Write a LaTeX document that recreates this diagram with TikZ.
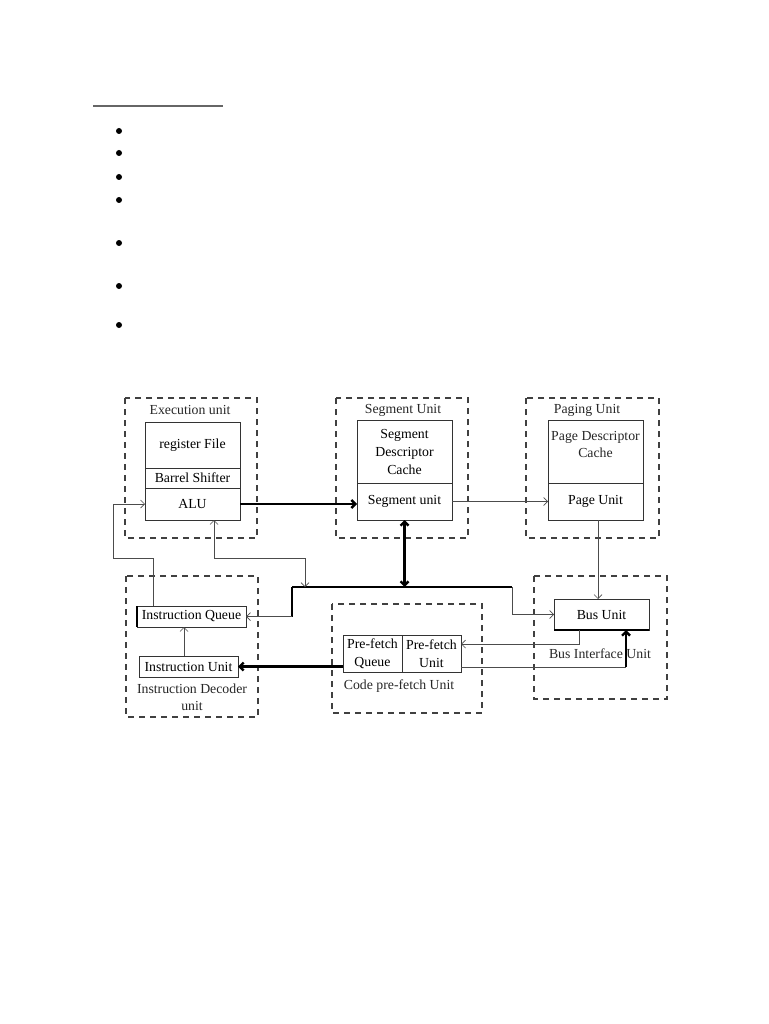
\documentclass[tikz,border=0pt]{standalone}
\usepackage{fontspec}
\setmainfont{Liberation Serif}
\usetikzlibrary{arrows.meta}

\colorlet{part edge}{black!80}
\colorlet{frame edge}{black!75}
\colorlet{wire edge}{black!70}
\tikzset{unitframe/.style={draw=frame edge, line width=1.1pt, dash pattern=on 6pt off 5pt},
    part/.style={draw=part edge, line width=0.7pt, minimum width=95pt, inner sep=0pt, outer sep=0pt,
        align=center, font=\fontsize{13.8}{18}\selectfont},
    title/.style={font=\fontsize{13.8}{17}\selectfont, align=center, text=black!85},
    wire/.style={draw=wire edge, line width=0.7pt, -{Straight Barb[length=4pt,width=8pt]}},
    bus/.style={draw=black, line width=2.4pt},
    tip/.style={-{Straight Barb[length=4pt,width=8pt]}}}
\def\frameEx{(125,398) rectangle (257,538)}
\def\frameSeg{(336,398) rectangle (468,538)}
\def\framePg{(526,398) rectangle (659,538)}
\def\frameId{(126,576) rectangle (258,717)}
\def\frameCp{(332,604) rectangle (482,713)}
\def\frameBi{(534,576) rectangle (667,699)}

\begin{document}
\begin{tikzpicture}[x=1pt,y=-1pt]
     \useasboundingbox (0,0) rectangle (768,1024);
     % heading and bullets
     \draw[black!60, line width=2pt] (93,106) -- (223,106);
     \foreach \y in {131,153,177,200,243,286,325}
         \fill (119,\y) circle (3);
     % unit frames
     \draw[unitframe] \frameEx;
     \draw[unitframe] \frameSeg;
     \draw[unitframe] \framePg;
     \draw[unitframe] \frameId;
     \draw[unitframe] \frameCp;
     \draw[unitframe] \frameBi;
     \node[title] (extitle) at (190,410) {Execution unit};
     \node[title] (segtitle) at (403,410) {Segment Unit};
     \node[title] (pgtitle) at (587,410) {Paging Unit};
     \node[title] (idtitle) at (192,697) {Instruction Decoder\\unit};
     \node[title] (cptitle) at (399,686) {Code pre-fetch Unit};
     \node[title] (bititle) at (600,654) {Bus Interface Unit};
     % parts
     \node[part, minimum height=46pt] (regfile) at (192.5,445) {register File};
     \node[part, minimum height=20pt] (shifter) at (192.5,478) {Barrel Shifter};
     \node[part, minimum height=32pt] (alu) at (192.5,504) {ALU};
     \node[part, minimum height=63pt] (segdesc) at (404.5,451.5) {Segment\\Descriptor\\Cache};
     \node[part, minimum height=37pt] (segunit) at (404.5,501.5) {Segment unit};
     \node[part, minimum height=63pt] (pagedesc) at (595.5,451.5) {};
     \node[title] at (595.5,444) {Page Descriptor\\Cache};
     \node[part, minimum height=37pt] (pageunit) at (595.5,501.5) {Page Unit};
     \node[part, minimum height=31pt] (busunit) at (601.5,614.5) {Bus Unit};
     \draw[line width=2pt] (busunit.south west) -- (busunit.south east);
     \node[part, minimum width=59pt, minimum height=37pt] (pfq) at (372.5,653.5) {Pre-fetch\\Queue};
     \node[part, minimum width=59pt, minimum height=37pt] (pfu) at (431.5,653.5) {Pre-fetch\\Unit};
     \node[part, minimum width=109pt, minimum height=21pt] (iq) at (191.5,616.5) {Instruction Queue};
     \draw[line width=2.2pt] (iq.north west) -- (iq.south west);
     \node[part, minimum width=99pt, minimum height=21pt] (iu) at (188.5,666.5) {Instruction Unit};
     % bus
     \coordinate (busL) at (292,587);
     \coordinate (busR) at (512,587);
     \coordinate (aluTap) at (305,587);
     \coordinate (qTurn) at (busL |- iq.east);
     \coordinate (bTurn) at (626,667);
     \draw[bus] (busL) -- (busR);
     \draw[bus] (busL) -- (qTurn);
     \draw[wire] (qTurn) -- (iq.east);
     \draw[wire] (busR) |- (busunit.west);
     \draw[bus, {Straight Barb[length=4pt,width=8pt]}-{Straight Barb[length=4pt,width=8pt]}] (segunit.south) -- (segunit.south |- busL);
     \draw[wire, {Straight Barb[length=4pt,width=8pt]}-{Straight Barb[length=4pt,width=8pt]}] ([xshift=21.5pt]alu.south) |- (305,558) -- (aluTap);
     % connectors
     \draw[bus, tip] (alu.east) -- (alu.east -| segunit.west);
     \draw[wire] (segunit.east) -- (pageunit.west);
     \draw[wire] ([xshift=2.5pt]pageunit.south) -- ([xshift=2.5pt]pageunit.south |- busunit.north);
     \draw[wire] ([xshift=-38.5pt]iq.north) |- (113,558) |- (alu.west);
     \draw[wire] ([xshift=-4.5pt]iu.north) -- ([xshift=-4.5pt]iu.north |- iq.south);
     \draw[bus, tip] (pfq.west |- iu.east) -- (iu.east);
     \draw[wire] ([xshift=-22.5pt]busunit.south) |- ([yshift=9.5pt]pfu.east);
     \draw[wire edge, line width=0.7pt] ([yshift=-13.5pt]pfu.east) -- (bTurn);
     \draw[bus, tip] (bTurn) -- (bTurn |- busunit.south);
   \end{tikzpicture}
\end{document}
